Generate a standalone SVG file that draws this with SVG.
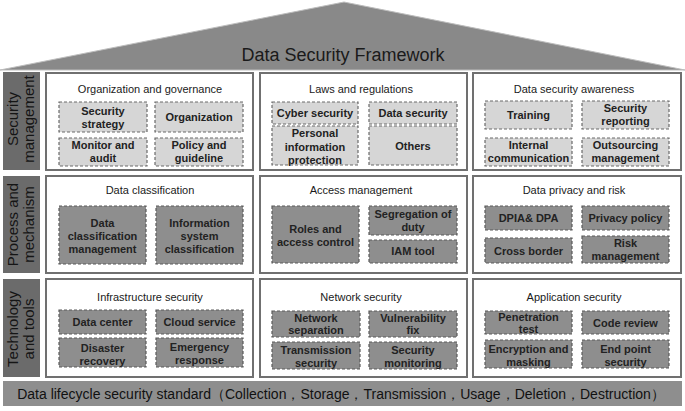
<svg xmlns="http://www.w3.org/2000/svg" width="685" height="411" viewBox="0 0 685 411">
<style>
text{font-family:"Liberation Sans",Arial,sans-serif;fill:#1a1a1a}
.title{font-size:18px;text-anchor:middle}
.lab{font-size:15px;text-anchor:middle;fill:#151515}
.labbox{fill:#6b6b6b}
.panel{fill:#fff;stroke:#707070;stroke-width:2}
.pt{font-size:11px;text-anchor:middle}
.bl{fill:#d6d6d6;stroke:#6a6a6a;stroke-width:1.2;stroke-dasharray:3 2}
.bd{fill:#8e8e8e;stroke:#5a5a5a;stroke-width:1.2;stroke-dasharray:3 2}
.bt{font-size:11px;font-weight:bold;text-anchor:middle;fill:#222}
.bar{fill:#8e8e8e}
.bartxt{font-size:14px;text-anchor:middle;fill:#111}
</style>
<g id="roof">
<polygon points="0,70 344,2 685,70" fill="#898989" stroke="#bdbdbd" stroke-width="1"/>
<text class="title" x="343" y="61">Data Security Framework</text>
</g>
<g id="row-labels">
<g id="label-security-management">
<rect class="labbox" x="3" y="72" width="37" height="98"/>
<text class="lab" transform="translate(21.5,119) rotate(-90)"><tspan x="0" y="-3.5">Security</tspan><tspan x="0" y="12.5">management</tspan></text>
</g>
<g id="label-process">
<rect class="labbox" x="3" y="176" width="37" height="97"/>
<text class="lab" transform="translate(21.5,224.5) rotate(-90)"><tspan x="0" y="-3.5">Process and</tspan><tspan x="0" y="12.5">mechanism</tspan></text>
</g>
<g id="label-technology">
<rect class="labbox" x="3" y="279" width="37" height="98"/>
<text class="lab" transform="translate(21.5,329) rotate(-90)"><tspan x="0" y="-3.5">Technology</tspan><tspan x="0" y="12.5">and tools</tspan></text>
</g>
</g>
<g id="panel-org-governance">
<rect class="panel" x="46" y="73" width="207" height="97"/>
<text class="pt" x="150" y="93">Organization and governance</text>
<g id="n-security-strategy"><rect class="bl" x="59" y="102" width="88" height="30"/><text class="bt" x="103" y="114.5">Security</text><text class="bt" x="103" y="127.5">strategy</text></g>
<g id="n-organization"><rect class="bl" x="155" y="102" width="88" height="30"/><text class="bt" x="199" y="121">Organization</text></g>
<g id="n-monitor-audit"><rect class="bl" x="59" y="138" width="88" height="28"/><text class="bt" x="103" y="149">Monitor and</text><text class="bt" x="103" y="162">audit</text></g>
<g id="n-policy-guideline"><rect class="bl" x="155" y="138" width="88" height="28"/><text class="bt" x="199" y="149">Policy and</text><text class="bt" x="199" y="162">guideline</text></g>
</g>
<g id="panel-laws">
<rect class="panel" x="260" y="73" width="207" height="97"/>
<text class="pt" x="361" y="93">Laws and regulations</text>
<g id="n-cyber-security"><rect class="bl" x="272" y="102" width="86" height="22"/><text class="bt" x="315" y="117">Cyber security</text></g>
<g id="n-data-security"><rect class="bl" x="369" y="102" width="88" height="22"/><text class="bt" x="413" y="117">Data security</text></g>
<g id="n-personal-info"><rect class="bl" x="272" y="126" width="86" height="39"/><text class="bt" x="315" y="137">Personal</text><text class="bt" x="315" y="150.5">information</text><text class="bt" x="315" y="164">protection</text></g>
<g id="n-others"><rect class="bl" x="369" y="126" width="88" height="39"/><text class="bt" x="413" y="149.5">Others</text></g>
</g>
<g id="panel-awareness">
<rect class="panel" x="473" y="73" width="208" height="97"/>
<text class="pt" x="574" y="93">Data security awareness</text>
<g id="n-training"><rect class="bl" x="485" y="101" width="87" height="28"/><text class="bt" x="528.5" y="119">Training</text></g>
<g id="n-security-reporting"><rect class="bl" x="582" y="101" width="87" height="28"/><text class="bt" x="625.5" y="112">Security</text><text class="bt" x="625.5" y="125">reporting</text></g>
<g id="n-internal-comm"><rect class="bl" x="485" y="138" width="87" height="28"/><text class="bt" x="528.5" y="149">Internal</text><text class="bt" x="528.5" y="162">communication</text></g>
<g id="n-outsourcing"><rect class="bl" x="582" y="138" width="87" height="28"/><text class="bt" x="625.5" y="149">Outsourcing</text><text class="bt" x="625.5" y="162">management</text></g>
</g>
<g id="panel-data-classification">
<rect class="panel" x="46" y="176" width="207" height="97"/>
<text class="pt" x="150" y="194">Data classification</text>
<g id="n-data-class-mgmt"><rect class="bd" x="59" y="206" width="87" height="58"/><text class="bt" x="102.5" y="227">Data</text><text class="bt" x="102.5" y="240">classification</text><text class="bt" x="102.5" y="253">management</text></g>
<g id="n-info-sys-class"><rect class="bd" x="156" y="206" width="87" height="58"/><text class="bt" x="199.5" y="227">Information</text><text class="bt" x="199.5" y="240">system</text><text class="bt" x="199.5" y="253">classification</text></g>
</g>
<g id="panel-access">
<rect class="panel" x="260" y="176" width="207" height="97"/>
<text class="pt" x="361" y="194">Access management</text>
<g id="n-roles"><rect class="bd" x="272" y="206" width="87" height="57"/><text class="bt" x="315.5" y="233">Roles and</text><text class="bt" x="315.5" y="246">access control</text></g>
<g id="n-segregation"><rect class="bd" x="369" y="206" width="88" height="29"/><text class="bt" x="413" y="218">Segregation of</text><text class="bt" x="413" y="231">duty</text></g>
<g id="n-iam"><rect class="bd" x="369" y="240" width="88" height="23"/><text class="bt" x="413" y="255">IAM tool</text></g>
</g>
<g id="panel-privacy">
<rect class="panel" x="473" y="176" width="208" height="97"/>
<text class="pt" x="574" y="194">Data privacy and risk</text>
<g id="n-dpia"><rect class="bd" x="485" y="206" width="87" height="24"/><text class="bt" x="528.5" y="222">DPIA&amp; DPA</text></g>
<g id="n-privacy-policy"><rect class="bd" x="582" y="206" width="87" height="24"/><text class="bt" x="625.5" y="222">Privacy policy</text></g>
<g id="n-cross-border"><rect class="bd" x="485" y="238" width="87" height="25"/><text class="bt" x="528.5" y="255">Cross border</text></g>
<g id="n-risk"><rect class="bd" x="582" y="236" width="87" height="27"/><text class="bt" x="625.5" y="247">Risk</text><text class="bt" x="625.5" y="260">management</text></g>
</g>
<g id="panel-infrastructure">
<rect class="panel" x="46" y="279" width="207" height="98"/>
<text class="pt" x="150" y="301">Infrastructure security</text>
<g id="n-data-center"><rect class="bd" x="59" y="310" width="87" height="24"/><text class="bt" x="102.5" y="326">Data center</text></g>
<g id="n-cloud"><rect class="bd" x="156" y="310" width="87" height="24"/><text class="bt" x="199.5" y="326">Cloud service</text></g>
<g id="n-disaster"><rect class="bd" x="59" y="338" width="87" height="29"/><text class="bt" x="102.5" y="351.5">Disaster</text><text class="bt" x="102.5" y="364.5">recovery</text></g>
<g id="n-emergency"><rect class="bd" x="156" y="338" width="87" height="29"/><text class="bt" x="199.5" y="350.5">Emergency</text><text class="bt" x="199.5" y="363.5">response</text></g>
</g>
<g id="panel-network">
<rect class="panel" x="260" y="279" width="207" height="98"/>
<text class="pt" x="361" y="301">Network security</text>
<g id="n-net-sep"><rect class="bd" x="272" y="311" width="88" height="26"/><text class="bt" x="316" y="322">Network</text><text class="bt" x="316" y="334">separation</text></g>
<g id="n-vuln"><rect class="bd" x="369" y="311" width="88" height="26"/><text class="bt" x="413" y="322">Vulnerability</text><text class="bt" x="413" y="334">fix</text></g>
<g id="n-transmission"><rect class="bd" x="272" y="342" width="88" height="27"/><text class="bt" x="316" y="354">Transmission</text><text class="bt" x="316" y="367">security</text></g>
<g id="n-sec-monitoring"><rect class="bd" x="369" y="342" width="88" height="27"/><text class="bt" x="413" y="354">Security</text><text class="bt" x="413" y="367">monitoring</text></g>
</g>
<g id="panel-application">
<rect class="panel" x="473" y="279" width="208" height="98"/>
<text class="pt" x="574" y="301">Application security</text>
<g id="n-pentest"><rect class="bd" x="485" y="311" width="87" height="23"/><text class="bt" x="528.5" y="321">Penetration</text><text class="bt" x="528.5" y="333">test</text></g>
<g id="n-code-review"><rect class="bd" x="582" y="311" width="87" height="23"/><text class="bt" x="625.5" y="327">Code review</text></g>
<g id="n-encryption"><rect class="bd" x="485" y="340" width="87" height="28"/><text class="bt" x="528.5" y="353">Encryption and</text><text class="bt" x="528.5" y="366">masking</text></g>
<g id="n-endpoint"><rect class="bd" x="582" y="340" width="87" height="28"/><text class="bt" x="625.5" y="353">End point</text><text class="bt" x="625.5" y="366">security</text></g>
</g>
<g id="connectors"></g>
<g id="lifecycle-bar">
<rect class="bar" x="3" y="381" width="679" height="25"/>
<text class="bartxt" x="341" y="399">Data lifecycle security standard（Collection，Storage，Transmission，Usage，Deletion，Destruction）</text>
</g>
</svg>
